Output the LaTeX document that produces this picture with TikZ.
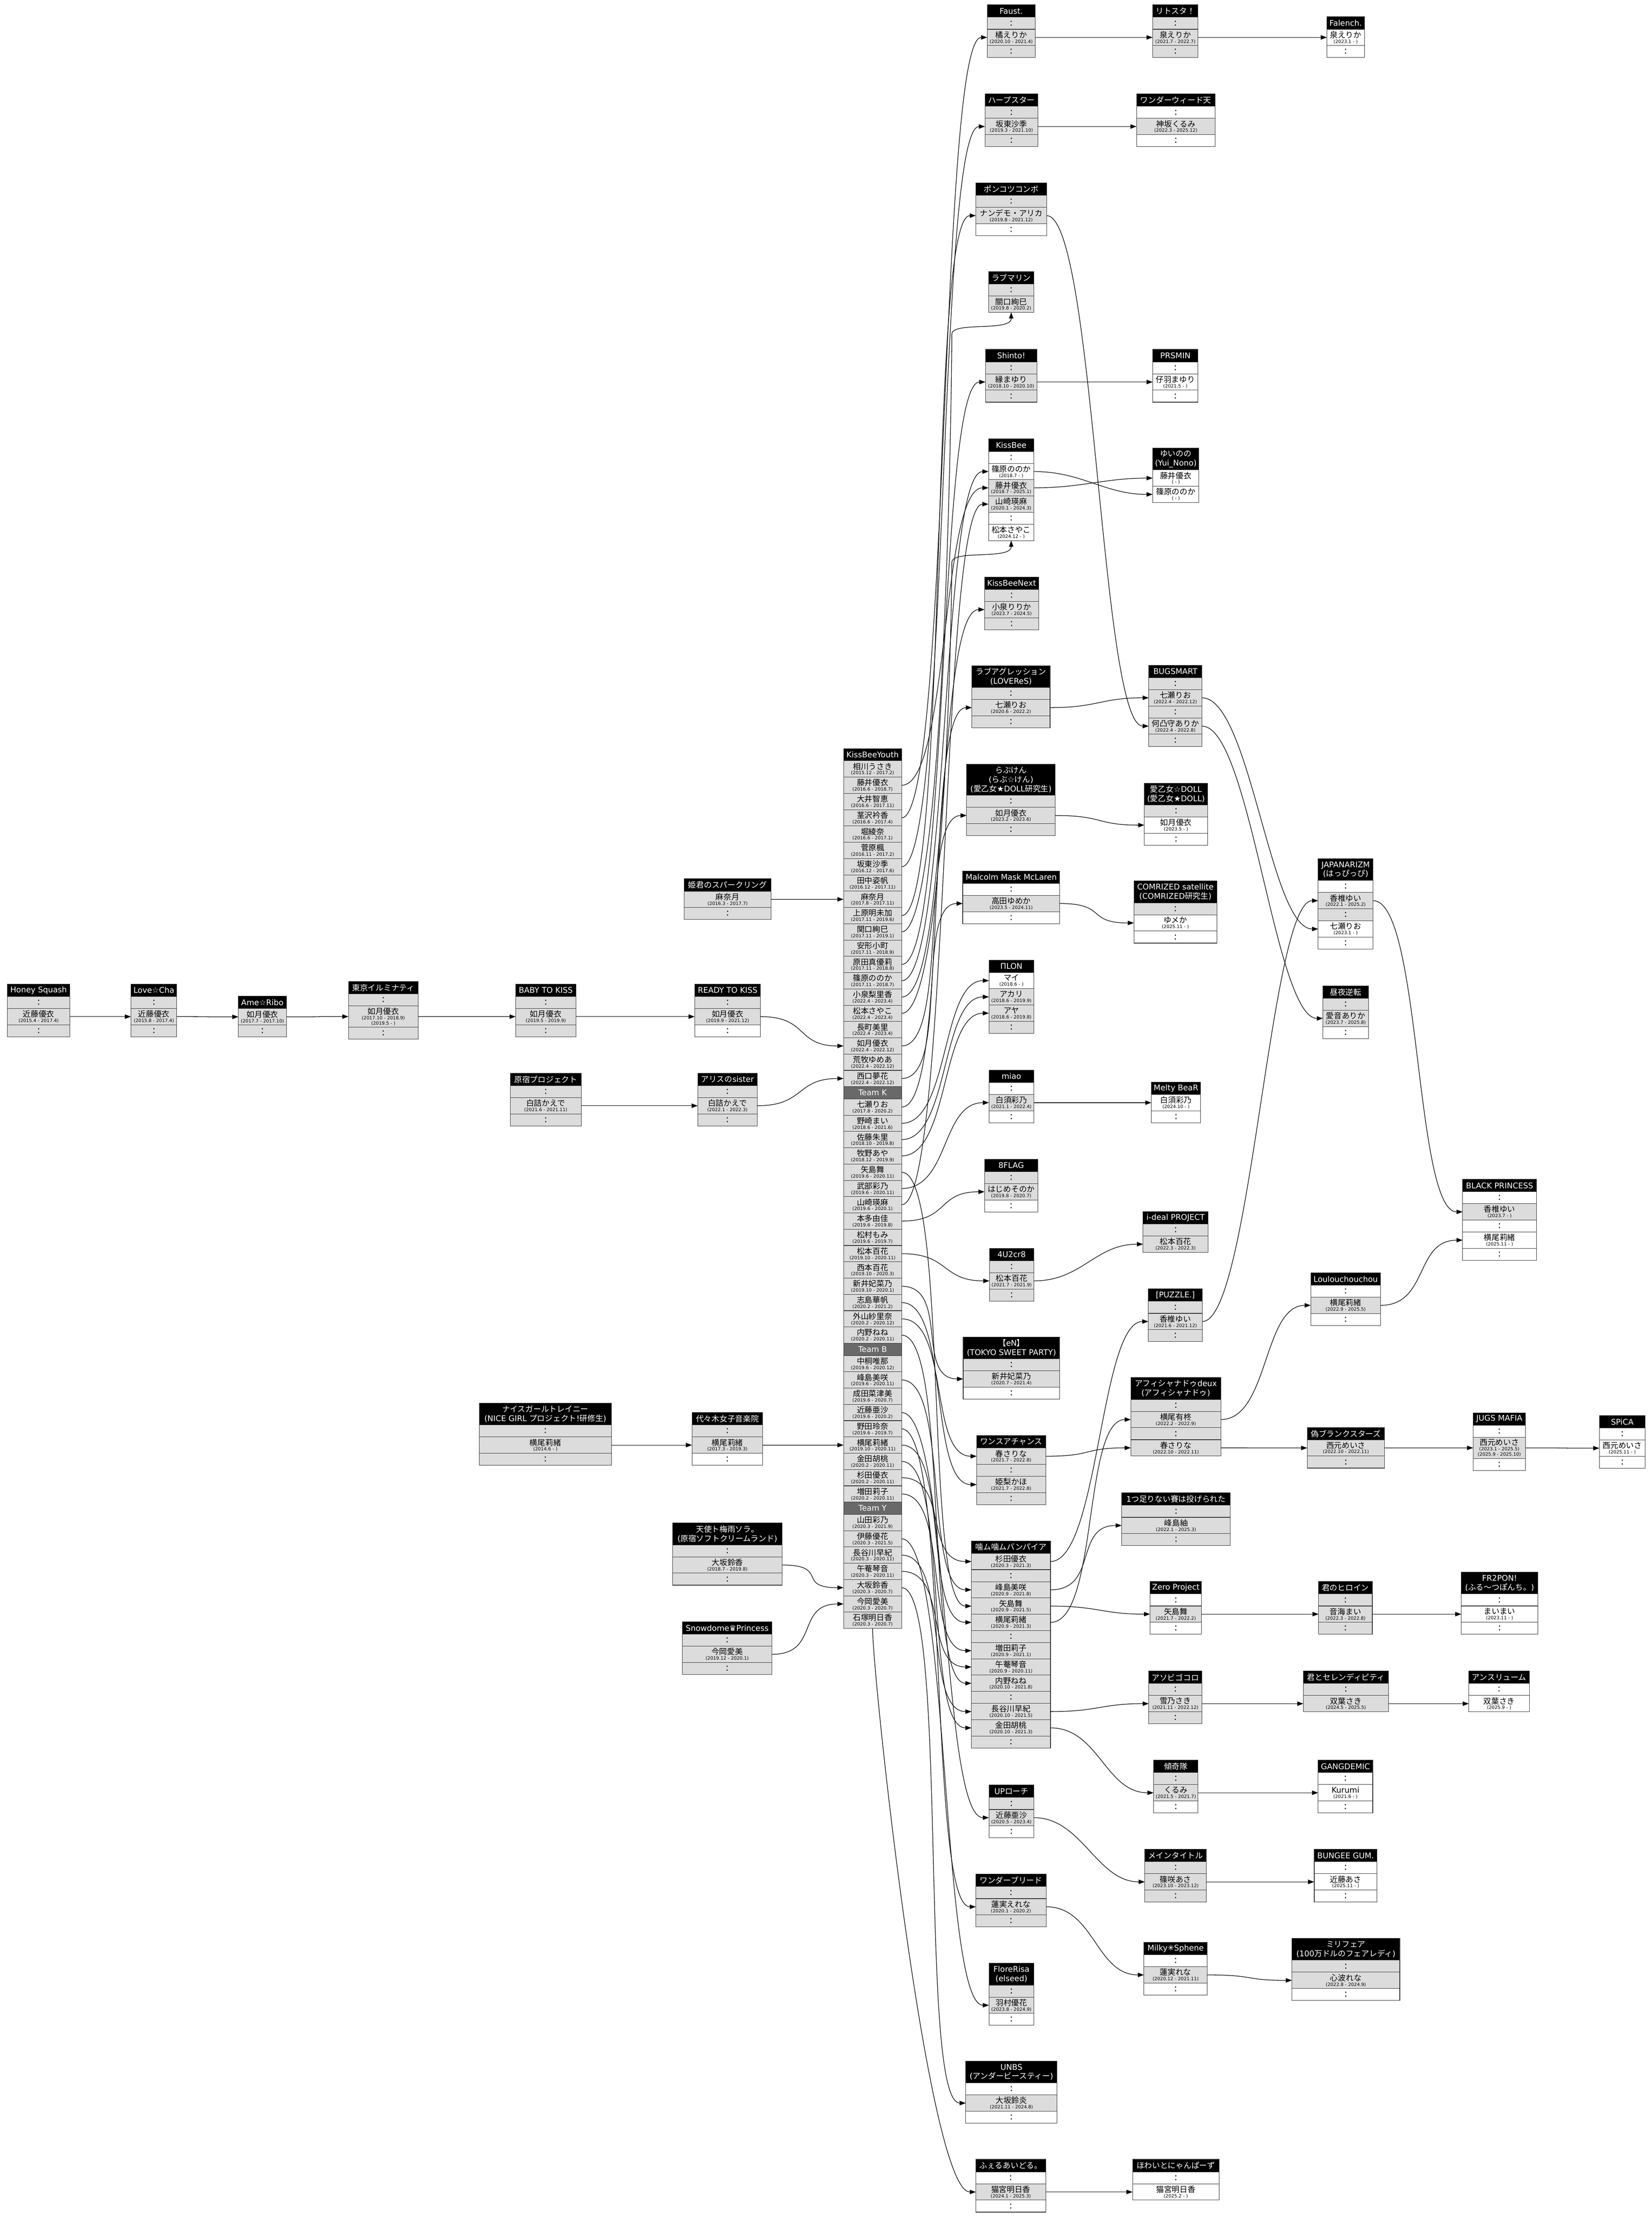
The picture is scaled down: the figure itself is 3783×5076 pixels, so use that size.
\documentclass[tikz,border=0pt]{standalone}
\usepackage{fontspec}
\setmainfont{DejaVu Sans}
\newfontfamily\jpfont{Noto Sans CJK JP}
\usepackage{xcolor}
\usepackage{tikz}
\usetikzlibrary{positioning, arrows.meta, calc}

\XeTeXinterchartokenstate=1
\newXeTeXintercharclass\jpclass
\newcount\jpcode
\jpcode="3000
\loop\XeTeXcharclass\jpcode=\jpclass \advance\jpcode by 1 \ifnum\jpcode<"A000 \repeat
\jpcode="FF00
\loop\XeTeXcharclass\jpcode=\jpclass \advance\jpcode by 1 \ifnum\jpcode<"FFF0 \repeat
\XeTeXinterchartoks 0 \jpclass={\jpfont}
\XeTeXinterchartoks 4095 \jpclass={\jpfont}
\XeTeXinterchartoks \jpclass 0={\rmfamily}

\definecolor{rowgray}{HTML}{DCDCDC}
\definecolor{teamgray}{HTML}{696969}
\definecolor{rulegray}{HTML}{333333}

\newcommand\hdfnt{\fontsize{18}{21}\selectfont}
\newcommand\nmfnt{\fontsize{18}{12}\selectfont}
\newcommand\dotfnt{\fontsize{22}{22}\selectfont}
\newcommand\when[1]{{\fontsize{10.5}{11}\selectfont(#1)}}

\tikzset{
  box/.style={draw=rulegray, line width=1.1pt, outer sep=0pt, inner sep=0pt, align=center},
  hd/.style={box, fill=black, text=white, minimum height=28.5pt, font=\hdfnt},
  hdd/.style={hd, minimum height=50pt},
  hddd/.style={hd, minimum height=71pt},
  team/.style={box, fill=teamgray, text=white, minimum height=28pt, font=\hdfnt},
  gm/.style={box, fill=rowgray, minimum height=37.3pt, font=\nmfnt},
  wm/.style={gm, fill=white},
  gmm/.style={gm, minimum height=49pt},
  gd/.style={box, fill=rowgray, minimum height=27.5pt, font=\dotfnt},
  wd/.style={gd, fill=white},
  link/.style={line width=1.3pt, -{Triangle[length=14pt,width=10pt]},
    to path={.. controls +(110pt,0pt) and +(-110pt,0pt) .. (\tikztotarget)}},
  uplink/.style={link, to path={.. controls +(100pt,0pt) and +(0pt,-100pt) .. ($(\tikztotarget)+(-136pt,-50pt)$)
    .. controls +(0pt,30pt) and +(0pt,-45pt) .. (\tikztotarget)}},
  downlink/.style={link, to path={.. controls +(0pt,-110pt) and +(-110pt,0pt) .. (\tikztotarget)}},
}

\begin{document}
\begin{tikzpicture}[x=1pt, y=1pt]
\useasboundingbox[fill=white] (0,0) rectangle (3783,-5076);

\begin{scope}[nodes={minimum width=143pt}]
\node[hd, anchor=north] (honey) at (88.5,-2253) {Honey Squash};
\node[gd, below=0pt of honey] (honey-d1) {:};
\node[gm, below=0pt of honey-d1] (honey-kondo) {近藤優衣\\\when{2015.4 - 2017.4}};
\node[gd, below=0pt of honey-kondo] (honey-d2) {:};
\end{scope}

\begin{scope}[nodes={minimum width=105pt}]
\node[hd, anchor=north] (lovecha) at (352.5,-2253) {Love☆Cha};
\node[gd, below=0pt of lovecha] (lovecha-d1) {:};
\node[gm, below=0pt of lovecha-d1] (lovecha-kondo) {近藤優衣\\\when{2015.8 - 2017.4}};
\node[gd, below=0pt of lovecha-kondo] (lovecha-d2) {:};
\end{scope}

\begin{scope}[nodes={minimum width=110pt}]
\node[hd, anchor=north] (ameribo) at (601,-2281) {Ame☆Ribo};
\node[gm, below=0pt of ameribo] (ameribo-kisa) {如月優衣\\\when{2017.7 - 2017.10}};
\node[gd, below=0pt of ameribo-kisa] (ameribo-d1) {:};
\end{scope}

\begin{scope}[nodes={minimum width=160pt}]
\node[hd, anchor=north] (illumi) at (878,-2247) {東京イルミナティ};
\node[gd, below=0pt of illumi] (illumi-d1) {:};
\node[gmm, below=0pt of illumi-d1] (illumi-kisa) {如月優衣\\\when{2017.10 - 2018.9}\\\when{2019.5 - }};
\node[gd, below=0pt of illumi-kisa] (illumi-d2) {:};
\end{scope}

\begin{scope}[nodes={minimum width=138pt}]
\node[hd, anchor=north] (babykiss) at (1250,-2253) {BABY TO KISS};
\node[gd, below=0pt of babykiss] (babykiss-d1) {:};
\node[gm, below=0pt of babykiss-d1] (babykiss-kisa) {如月優衣\\\when{2019.5 - 2019.9}};
\node[gd, below=0pt of babykiss-kisa] (babykiss-d2) {:};
\end{scope}

\begin{scope}[nodes={minimum width=151pt}]
\node[hd, anchor=north] (readykiss) at (1666.5,-2253) {READY TO KISS};
\node[gd, below=0pt of readykiss] (readykiss-d1) {:};
\node[gm, below=0pt of readykiss-d1] (readykiss-kisa) {如月優衣\\\when{2019.9 - 2021.12}};
\node[wd, below=0pt of readykiss-kisa] (readykiss-d2) {:};
\end{scope}

\begin{scope}[nodes={minimum width=199pt}]
\node[hd, anchor=north] (hime) at (1666.5,-2012) {姫君のスパークリング};
\node[gm, below=0pt of hime] (hime-mana) {麻奈月\\\when{2016.3 - 2017.7}};
\node[gd, below=0pt of hime-mana] (hime-d1) {:};
\end{scope}

\begin{scope}[nodes={minimum width=162pt}]
\node[hd, anchor=north] (harajuku) at (1250,-2457) {原宿プロジェクト};
\node[gd, below=0pt of harajuku] (harajuku-d1) {:};
\node[gm, below=0pt of harajuku-d1] (harajuku-shiro) {白詰かえで\\\when{2021.6 - 2021.11}};
\node[gd, below=0pt of harajuku-shiro] (harajuku-d2) {:};
\end{scope}

\begin{scope}[nodes={minimum width=136pt}]
\node[hd, anchor=north] (alice) at (1666,-2457) {アリスのsister};
\node[gd, below=0pt of alice] (alice-d1) {:};
\node[gm, below=0pt of alice-d1] (alice-shiro) {白詰かえで\\\when{2022.1 - 2022.3}};
\node[gd, below=0pt of alice-shiro] (alice-d2) {:};
\end{scope}

\begin{scope}[nodes={minimum width=302pt}]
\node[hdd, anchor=north] (nice) at (1249,-3212.5) {ナイスガールトレイニー\\(NICE GIRL プロジェクト!研修生)};
\node[gd, below=0pt of nice] (nice-d1) {:};
\node[gm, below=0pt of nice-d1] (nice-yokoo) {横尾莉緒\\\when{2014.6 - }};
\node[gd, below=0pt of nice-yokoo] (nice-d2) {:};
\end{scope}

\begin{scope}[nodes={minimum width=162pt}]
\node[hd, anchor=north] (yoyogi) at (1666,-3234) {代々木女子音楽院};
\node[gd, below=0pt of yoyogi] (yoyogi-d1) {:};
\node[gm, below=0pt of yoyogi-d1] (yoyogi-yokoo) {横尾莉緒\\\when{2017.3 - 2019.3}};
\node[wd, below=0pt of yoyogi-yokoo] (yoyogi-d2) {:};
\end{scope}

\begin{scope}[nodes={minimum width=250pt}]
\node[hdd, anchor=north] (tenshi) at (1666,-3487) {天使ト梅雨ソラ。\\(原宿ソフトクリームランド)};
\node[gd, below=0pt of tenshi] (tenshi-d1) {:};
\node[gm, below=0pt of tenshi-d1] (tenshi-osaka) {大坂鈴香\\\when{2018.7 - 2019.8}};
\node[gd, below=0pt of tenshi-osaka] (tenshi-d2) {:};
\end{scope}

\begin{scope}[nodes={minimum width=205pt}]
\node[hd, anchor=north] (snow) at (1665.5,-3713) {Snowdome♛Princess};
\node[gd, below=0pt of snow] (snow-d1) {:};
\node[gm, below=0pt of snow-d1] (snow-imaoka) {今岡愛美\\\when{2019.12 - 2020.1}};
\node[gd, below=0pt of snow-imaoka] (snow-d2) {:};
\end{scope}

\begin{scope}[nodes={minimum width=133pt}]
\node[hd, minimum height=28pt, anchor=north] (kby) at (1998.5,-1714) {KissBeeYouth};
\node[gm, below=0pt of kby] (kby-aikawa) {相川うさき\\\when{2015.12 - 2017.2}};
\node[gm, below=0pt of kby-aikawa] (kby-fujii) {藤井優衣\\\when{2016.6 - 2018.7}};
\node[gm, below=0pt of kby-fujii] (kby-oi) {大井智恵\\\when{2016.6 - 2017.11}};
\node[gm, below=0pt of kby-oi] (kby-kukisawa) {茎沢衿香\\\when{2016.6 - 2017.4}};
\node[gm, below=0pt of kby-kukisawa] (kby-hori) {堀綾奈\\\when{2016.6 - 2017.1}};
\node[gm, below=0pt of kby-hori] (kby-sugawara) {菅原楓\\\when{2016.11 - 2017.2}};
\node[gm, below=0pt of kby-sugawara] (kby-bando) {坂東沙季\\\when{2016.12 - 2017.6}};
\node[gm, below=0pt of kby-bando] (kby-tanaka) {田中姿帆\\\when{2016.12 - 2017.11}};
\node[gm, below=0pt of kby-tanaka] (kby-mana) {麻奈月\\\when{2017.8 - 2017.11}};
\node[gm, below=0pt of kby-mana] (kby-uehara) {上原明未加\\\when{2017.11 - 2019.6}};
\node[gm, below=0pt of kby-uehara] (kby-sekiguchi) {関口絢巳\\\when{2017.11 - 2019.1}};
\node[gm, below=0pt of kby-sekiguchi] (kby-agata) {安形小町\\\when{2017.11 - 2018.9}};
\node[gm, below=0pt of kby-agata] (kby-harada) {原田真優莉\\\when{2017.11 - 2018.8}};
\node[gm, below=0pt of kby-harada] (kby-shinohara) {篠原ののか\\\when{2017.11 - 2018.7}};
\node[gm, below=0pt of kby-shinohara] (kby-koizumi) {小泉梨里香\\\when{2022.4 - 2023.4}};
\node[gm, below=0pt of kby-koizumi] (kby-matsumotos) {松本さやこ\\\when{2022.4 - 2023.4}};
\node[gm, below=0pt of kby-matsumotos] (kby-nagamachi) {長町美里\\\when{2022.4 - 2023.4}};
\node[gm, below=0pt of kby-nagamachi] (kby-kisaragi) {如月優衣\\\when{2022.4 - 2022.12}};
\node[gm, below=0pt of kby-kisaragi] (kby-aramaki) {荒牧ゆめあ\\\when{2022.4 - 2022.12}};
\node[gm, below=0pt of kby-aramaki] (kby-nishiguchi) {西口夢花\\\when{2022.4 - 2022.12}};
\node[team, below=0pt of kby-nishiguchi] (kby-k) {Team K};
\node[gm, below=0pt of kby-k] (kby-nanase) {七瀬りお\\\when{2017.8 - 2020.2}};
\node[gm, below=0pt of kby-nanase] (kby-nozaki) {野崎まい\\\when{2018.6 - 2021.6}};
\node[gm, below=0pt of kby-nozaki] (kby-sato) {佐藤朱里\\\when{2018.10 - 2019.8}};
\node[gm, below=0pt of kby-sato] (kby-makino) {牧野あや\\\when{2018.12 - 2019.9}};
\node[gm, below=0pt of kby-makino] (kby-yajima) {矢島舞\\\when{2019.6 - 2020.11}};
\node[gm, below=0pt of kby-yajima] (kby-takebe) {武部彩乃\\\when{2019.6 - 2020.11}};
\node[gm, below=0pt of kby-takebe] (kby-yamazaki) {山崎瑛麻\\\when{2019.6 - 2020.1}};
\node[gm, below=0pt of kby-yamazaki] (kby-honda) {本多由佳\\\when{2019.6 - 2019.8}};
\node[gm, below=0pt of kby-honda] (kby-matsumura) {松村もみ\\\when{2019.6 - 2019.7}};
\node[gm, below=0pt of kby-matsumura] (kby-matsumotom) {松本百花\\\when{2019.10 - 2020.11}};
\node[gm, below=0pt of kby-matsumotom] (kby-nishimoto) {西本百花\\\when{2019.10 - 2020.3}};
\node[gm, below=0pt of kby-nishimoto] (kby-arai) {新井妃菜乃\\\when{2019.10 - 2020.1}};
\node[gm, below=0pt of kby-arai] (kby-shijima) {志島華帆\\\when{2020.2 - 2021.2}};
\node[gm, below=0pt of kby-shijima] (kby-toyama) {外山紗里奈\\\when{2020.2 - 2020.12}};
\node[gm, below=0pt of kby-toyama] (kby-uchino) {内野ねね\\\when{2020.2 - 2020.11}};
\node[team, below=0pt of kby-uchino] (kby-b) {Team B};
\node[gm, below=0pt of kby-b] (kby-nakagiri) {中桐唯那\\\when{2019.6 - 2020.12}};
\node[gm, below=0pt of kby-nakagiri] (kby-mineshima) {峰島美咲\\\when{2019.6 - 2020.11}};
\node[gm, below=0pt of kby-mineshima] (kby-narita) {成田菜津美\\\when{2019.6 - 2020.7}};
\node[gm, below=0pt of kby-narita] (kby-kondo) {近藤亜沙\\\when{2019.6 - 2020.2}};
\node[gm, below=0pt of kby-kondo] (kby-noda) {野田玲奈\\\when{2019.6 - 2019.7}};
\node[gm, below=0pt of kby-noda] (kby-yokoo) {横尾莉緒\\\when{2019.10 - 2020.11}};
\node[gm, below=0pt of kby-yokoo] (kby-kaneda) {金田胡桃\\\when{2020.2 - 2020.11}};
\node[gm, below=0pt of kby-kaneda] (kby-sugita) {杉田優衣\\\when{2020.2 - 2020.11}};
\node[gm, below=0pt of kby-sugita] (kby-masuda) {増田莉子\\\when{2020.2 - 2020.11}};
\node[team, below=0pt of kby-masuda] (kby-y) {Team Y};
\node[gm, below=0pt of kby-y] (kby-yamada) {山田彩乃\\\when{2020.3 - 2021.9}};
\node[gm, below=0pt of kby-yamada] (kby-ito) {伊藤優花\\\when{2020.3 - 2021.5}};
\node[gm, below=0pt of kby-ito] (kby-hasegawa) {長谷川早紀\\\when{2020.3 - 2020.11}};
\node[gm, below=0pt of kby-hasegawa] (kby-gogan) {午菴琴音\\\when{2020.3 - 2020.11}};
\node[gm, below=0pt of kby-gogan] (kby-osaka) {大坂鈴香\\\when{2020.3 - 2020.7}};
\node[gm, below=0pt of kby-osaka] (kby-imaoka) {今岡愛美\\\when{2020.3 - 2020.7}};
\node[gm, below=0pt of kby-imaoka] (kby-ishizuka) {石塚明日香\\\when{2020.3 - 2020.7}};
\end{scope}

\begin{scope}[nodes={minimum width=110pt}]
\node[hd, anchor=north] (faust) at (2316,-11) {Faust.};
\node[gd, below=0pt of faust] (faust-d1) {:};
\node[gm, below=0pt of faust-d1] (faust-tachibana) {橘えりか\\\when{2020.10 - 2021.4}};
\node[gd, below=0pt of faust-tachibana] (faust-d2) {:};
\end{scope}

\begin{scope}[nodes={minimum width=104pt}]
\node[hd, anchor=north] (ritosuta) at (2692,-11) {リトスタ！};
\node[gd, below=0pt of ritosuta] (ritosuta-d1) {:};
\node[gm, below=0pt of ritosuta-d1] (ritosuta-izumi) {泉えりか\\\when{2021.7 - 2022.7}};
\node[gd, below=0pt of ritosuta-izumi] (ritosuta-d2) {:};
\end{scope}

\begin{scope}[nodes={minimum width=86pt}]
\node[hd, anchor=north] (falench) at (3082,-38.5) {Falench.};
\node[wm, below=0pt of falench] (falench-izumi) {泉えりか\\\when{2023.1 - }};
\node[wd, below=0pt of falench-izumi] (falench-d1) {:};
\end{scope}

\begin{scope}[nodes={minimum width=121pt}]
\node[hd, anchor=north] (harp) at (2316.5,-215) {ハープスター};
\node[gd, below=0pt of harp] (harp-d1) {:};
\node[gm, below=0pt of harp-d1] (harp-bando) {坂東沙季\\\when{2019.3 - 2021.10}};
\node[gd, below=0pt of harp-bando] (harp-d2) {:};
\end{scope}

\begin{scope}[nodes={minimum width=180pt}]
\node[hd, anchor=north] (wonderweed) at (2693,-215) {ワンダーウィード天};
\node[wd, below=0pt of wonderweed] (wonderweed-d1) {:};
\node[gm, below=0pt of wonderweed-d1] (wonderweed-kamisaka) {神坂くるみ\\\when{2022.3 - 2025.12}};
\node[wd, below=0pt of wonderweed-kamisaka] (wonderweed-d2) {:};
\end{scope}

\begin{scope}[nodes={minimum width=162pt}]
\node[hd, anchor=north] (ponkotsu) at (2316,-419) {ポンコツコンボ};
\node[gd, below=0pt of ponkotsu] (ponkotsu-d1) {:};
\node[gm, below=0pt of ponkotsu-d1] (ponkotsu-arika) {ナンデモ・アリカ\\\when{2019.8 - 2021.12}};
\node[wd, below=0pt of ponkotsu-arika] (ponkotsu-d2) {:};
\end{scope}

\begin{scope}[nodes={minimum width=104pt}]
\node[hd, anchor=north] (lovemarine) at (2316,-622) {ラブマリン};
\node[gd, below=0pt of lovemarine] (lovemarine-d1) {:};
\node[gm, below=0pt of lovemarine-d1] (lovemarine-sekiguchi) {關口絢巳\\\when{2019.8 - 2020.2}};
\end{scope}

\begin{scope}[nodes={minimum width=118pt}]
\node[hd, anchor=north] (shinto) at (2316,-800) {Shinto!};
\node[gd, below=0pt of shinto] (shinto-d1) {:};
\node[gm, below=0pt of shinto-d1] (shinto-mayuri) {縁まゆり\\\when{2018.10 - 2020.10}};
\node[gd, below=0pt of shinto-mayuri] (shinto-d2) {:};
\end{scope}

\begin{scope}[nodes={minimum width=104pt}]
\node[hd, anchor=north] (prsmin) at (2692,-800) {PRSMIN};
\node[wd, below=0pt of prsmin] (prsmin-d1) {:};
\node[wm, below=0pt of prsmin-d1] (prsmin-mayuri) {仔羽まゆり\\\when{2021.5 - }};
\node[wd, below=0pt of prsmin-mayuri] (prsmin-d2) {:};
\end{scope}

\begin{scope}[nodes={minimum width=104pt}]
\node[hd, anchor=north] (kissbee) at (2316,-1005) {KissBee};
\node[wd, below=0pt of kissbee] (kissbee-d1) {:};
\node[wm, below=0pt of kissbee-d1] (kissbee-shinohara) {篠原ののか\\\when{2018.7 - }};
\node[gm, below=0pt of kissbee-shinohara] (kissbee-fujii) {藤井優衣\\\when{2018.7 - 2025.1}};
\node[gm, below=0pt of kissbee-fujii] (kissbee-yamazaki) {山崎瑛麻\\\when{2020.1 - 2024.3}};
\node[wd, below=0pt of kissbee-yamazaki] (kissbee-d2) {:};
\node[wm, below=0pt of kissbee-d2] (kissbee-matsumoto) {松本さやこ\\\when{2024.12 - }};
\end{scope}

\begin{scope}[nodes={minimum width=106pt}]
\node[hdd, anchor=north] (yuinono) at (2693,-1026) {ゆいのの\\(Yui\_Nono)};
\node[wm, below=0pt of yuinono] (yuinono-fujii) {藤井優衣\\\when{ - }};
\node[wm, below=0pt of yuinono-fujii] (yuinono-shinohara) {篠原ののか\\\when{ - }};
\end{scope}

\begin{scope}[nodes={minimum width=124pt}]
\node[hd, anchor=north] (kbnext) at (2317,-1321) {KissBeeNext};
\node[gd, below=0pt of kbnext] (kbnext-d1) {:};
\node[gm, below=0pt of kbnext-d1] (kbnext-koizumi) {小泉りりか\\\when{2023.7 - 2024.5}};
\node[gd, below=0pt of kbnext-koizumi] (kbnext-d2) {:};
\end{scope}

\begin{scope}[nodes={minimum width=179pt}]
\node[hdd, anchor=north] (loveres) at (2315.5,-1524) {ラブアグレッション\\(LOVEReS)};
\node[gd, below=0pt of loveres] (loveres-d1) {:};
\node[gm, below=0pt of loveres-d1] (loveres-nanase) {七瀬りお\\\when{2020.6 - 2022.2}};
\node[gd, below=0pt of loveres-nanase] (loveres-d2) {:};
\end{scope}

\begin{scope}[nodes={minimum width=122pt}]
\node[hd, anchor=north] (bugsmart) at (2692,-1523) {BUGSMART};
\node[gd, below=0pt of bugsmart] (bugsmart-d1) {:};
\node[gm, below=0pt of bugsmart-d1] (bugsmart-nanase) {七瀬りお\\\when{2022.4 - 2022.12}};
\node[gd, below=0pt of bugsmart-nanase] (bugsmart-d2) {:};
\node[gm, below=0pt of bugsmart-d2] (bugsmart-arika) {何凸守ありか\\\when{2022.4 - 2022.8}};
\node[gd, below=0pt of bugsmart-arika] (bugsmart-d3) {:};
\end{scope}

\begin{scope}[nodes={minimum width=203pt}]
\node[hddd, anchor=north] (loveken) at (2315.5,-1750) {らぶけん\\(らぶ☆けん)\\(愛乙女★DOLL研究生)};
\node[gd, below=0pt of loveken] (loveken-d1) {:};
\node[gm, below=0pt of loveken-d1] (loveken-kisa) {如月優衣\\\when{2023.2 - 2023.6}};
\node[gd, below=0pt of loveken-kisa] (loveken-d2) {:};
\end{scope}

\begin{scope}[nodes={minimum width=145pt}]
\node[hdd, anchor=north] (aiotome) at (2693.5,-1793) {愛乙女☆DOLL\\(愛乙女★DOLL)};
\node[gd, below=0pt of aiotome] (aiotome-d1) {:};
\node[wm, below=0pt of aiotome-d1] (aiotome-kisa) {如月優衣\\\when{2023.5 - }};
\node[wd, below=0pt of aiotome-kisa] (aiotome-d2) {:};
\end{scope}

\begin{scope}[nodes={minimum width=222pt}]
\node[hd, anchor=north] (malcolm) at (2316,-1994) {Malcolm Mask McLaren};
\node[wd, below=0pt of malcolm] (malcolm-d1) {:};
\node[gm, below=0pt of malcolm-d1] (malcolm-takada) {高田ゆめか\\\when{2023.5 - 2024.11}};
\node[wd, below=0pt of malcolm-takada] (malcolm-d2) {:};
\end{scope}

\begin{scope}[nodes={minimum width=190pt}]
\node[hdd, anchor=north] (comrized) at (2692,-2017) {COMRIZED satellite\\(COMRIZED研究生)};
\node[gd, below=0pt of comrized] (comrized-d1) {:};
\node[wm, below=0pt of comrized-d1] (comrized-yumeka) {ゆメか\\\when{2025.11 - }};
\node[wd, below=0pt of comrized-yumeka] (comrized-d2) {:};
\end{scope}

\begin{scope}[nodes={minimum width=126pt}]
\node[hdd, anchor=north] (japanarizm) at (3082,-1966) {JAPANARIZM\\(はっぴっぴ)};
\node[wd, below=0pt of japanarizm] (japanarizm-d1) {:};
\node[gm, below=0pt of japanarizm-d1] (japanarizm-kashii) {香椎ゆい\\\when{2022.1 - 2025.2}};
\node[gd, below=0pt of japanarizm-kashii] (japanarizm-d2) {:};
\node[wm, below=0pt of japanarizm-d2] (japanarizm-nanase) {七瀬りお\\\when{2023.1 - }};
\node[wd, below=0pt of japanarizm-nanase] (japanarizm-d3) {:};
\end{scope}

\begin{scope}[nodes={minimum width=103pt}]
\node[hd, anchor=north] (pilon) at (2316.5,-2198) {ΠLON};
\node[wm, below=0pt of pilon] (pilon-mai) {マイ\\\when{2018.6 - }};
\node[gm, below=0pt of pilon-mai] (pilon-akari) {アカリ\\\when{2018.6 - 2019.9}};
\node[gm, below=0pt of pilon-akari] (pilon-aya) {アヤ\\\when{2018.6 - 2019.8}};
\node[gd, below=0pt of pilon-aya] (pilon-d1) {:};
\end{scope}

\begin{scope}[nodes={minimum width=104pt}]
\node[hd, anchor=north] (chuya) at (3082,-2257) {昼夜逆転};
\node[gd, below=0pt of chuya] (chuya-d1) {:};
\node[gm, below=0pt of chuya-d1] (chuya-arika) {愛音ありか\\\when{2023.7 - 2025.8}};
\node[wd, below=0pt of chuya-arika] (chuya-d2) {:};
\end{scope}

\begin{scope}[nodes={minimum width=103pt}]
\node[hd, anchor=north] (miao) at (2316.5,-2450) {miao};
\node[wd, below=0pt of miao] (miao-d1) {:};
\node[gm, below=0pt of miao-d1] (miao-shirasu) {白須彩乃\\\when{2021.1 - 2022.4}};
\node[wd, below=0pt of miao-shirasu] (miao-d2) {:};
\end{scope}

\begin{scope}[nodes={minimum width=113pt}]
\node[hd, anchor=north] (melty) at (2693.5,-2477.5) {Melty BeaR};
\node[wm, below=0pt of melty] (melty-shirasu) {白須彩乃\\\when{2024.10 - }};
\node[wd, below=0pt of melty-shirasu] (melty-d1) {:};
\end{scope}

\begin{scope}[nodes={minimum width=122pt}]
\node[hd, anchor=north] (eightflag) at (2316,-2654) {8FLAG};
\node[gd, below=0pt of eightflag] (eightflag-d1) {:};
\node[gm, below=0pt of eightflag-d1] (eightflag-sonoka) {はじめそのか\\\when{2019.8 - 2020.7}};
\node[wd, below=0pt of eightflag-sonoka] (eightflag-d2) {:};
\end{scope}

\begin{scope}[nodes={minimum width=149pt}]
\node[hd, anchor=north] (ideal) at (2692.5,-2774) {i-deal PROJECT};
\node[gd, below=0pt of ideal] (ideal-d1) {:};
\node[gm, below=0pt of ideal-d1] (ideal-matsumoto) {松本百花\\\when{2022.3 - 2022.3}};
\end{scope}

\begin{scope}[nodes={minimum width=102pt}]
\node[hd, anchor=north] (fouru) at (2317,-2858) {4U2cr8};
\node[gd, below=0pt of fouru] (fouru-d1) {:};
\node[gm, below=0pt of fouru-d1] (fouru-matsumoto) {松本百花\\\when{2021.7 - 2021.9}};
\node[gd, below=0pt of fouru-matsumoto] (fouru-d2) {:};
\end{scope}

\begin{scope}[nodes={minimum width=124pt}]
\node[hd, anchor=north] (puzzle) at (2692,-2951) {[PUZZLE.]};
\node[gd, below=0pt of puzzle] (puzzle-d1) {:};
\node[gm, below=0pt of puzzle-d1] (puzzle-kashii) {香椎ゆい\\\when{2021.6 - 2021.12}};
\node[gd, below=0pt of puzzle-kashii] (puzzle-d2) {:};
\end{scope}

\begin{scope}[nodes={minimum width=160pt}]
\node[hd, anchor=north] (loulou) at (3082,-2914) {Loulouchouchou};
\node[wd, below=0pt of loulou] (loulou-d1) {:};
\node[gm, below=0pt of loulou-d1] (loulou-yokoo) {横尾莉緒\\\when{2022.9 - 2025.5}};
\node[wd, below=0pt of loulou-yokoo] (loulou-d2) {:};
\end{scope}

\begin{scope}[nodes={minimum width=169pt}]
\node[hd, anchor=north] (blackp) at (3434.5,-2700) {BLACK PRINCESS};
\node[wd, below=0pt of blackp] (blackp-d1) {:};
\node[gm, below=0pt of blackp-d1] (blackp-kashii) {香椎ゆい\\\when{2023.7 - }};
\node[wd, below=0pt of blackp-kashii] (blackp-d2) {:};
\node[wm, below=0pt of blackp-d2] (blackp-yokoo) {横尾莉緒\\\when{2025.11 - }};
\node[wd, below=0pt of blackp-yokoo] (blackp-d3) {:};
\end{scope}

\begin{scope}[nodes={minimum width=221pt}]
\node[hdd, anchor=north] (en) at (2316.5,-3061) {【eN】\\(TOKYO SWEET PARTY)};
\node[gd, below=0pt of en] (en-d1) {:};
\node[gm, below=0pt of en-d1] (en-arai) {新井妃菜乃\\\when{2020.7 - 2021.4}};
\node[wd, below=0pt of en-arai] (en-d2) {:};
\end{scope}

\begin{scope}[nodes={minimum width=206pt}]
\node[hdd, anchor=north] (affi) at (2693,-3154) {アフィシャナドゥdeux\\(アフィシャナドゥ)};
\node[gd, below=0pt of affi] (affi-d1) {:};
\node[gm, below=0pt of affi-d1] (affi-yokoo) {横尾有柊\\\when{2022.2 - 2022.9}};
\node[gd, below=0pt of affi-yokoo] (affi-d2) {:};
\node[gm, below=0pt of affi-d2] (affi-sarina) {春さりな\\\when{2022.10 - 2022.11}};
\end{scope}

\begin{scope}[nodes={minimum width=158pt}]
\node[hd, anchor=north] (once) at (2316,-3287) {ワンスアチャンス};
\node[gm, below=0pt of once] (once-sarina) {春さりな\\\when{2021.7 - 2022.8}};
\node[gd, below=0pt of once-sarina] (once-d1) {:};
\node[gm, below=0pt of once-d1] (once-kaho) {姫梨かほ\\\when{2021.7 - 2022.8}};
\node[gd, below=0pt of once-kaho] (once-d2) {:};
\end{scope}

\begin{scope}[nodes={minimum width=177pt}]
\node[hd, anchor=north] (nise) at (3082.5,-3268) {偽ブランクスターズ};
\node[gm, below=0pt of nise] (nise-meisa) {西元めいさ\\\when{2022.10 - 2022.11}};
\node[gd, below=0pt of nise-meisa] (nise-d1) {:};
\end{scope}

\begin{scope}[nodes={minimum width=120pt}]
\node[hd, anchor=north] (jugs) at (3434,-3234.5) {JUGS MAFIA};
\node[wd, below=0pt of jugs] (jugs-d1) {:};
\node[gmm, below=0pt of jugs-d1] (jugs-meisa) {西元めいさ\\\when{2023.1 - 2025.5}\\\when{2025.9 - 2025.10}};
\node[wd, below=0pt of jugs-meisa] (jugs-d2) {:};
\end{scope}

\begin{scope}[nodes={minimum width=105pt}]
\node[hd, anchor=north] (spica) at (3715.5,-3241) {SPiCA};
\node[wd, below=0pt of spica] (spica-d1) {:};
\node[wm, below=0pt of spica-d1] (spica-meisa) {西元めいさ\\\when{2025.11 - }};
\node[wd, below=0pt of spica-meisa] (spica-d2) {:};
\end{scope}

\begin{scope}[nodes={minimum width=249pt}]
\node[hd, anchor=north] (hitotsu) at (2693.5,-3418) {1つ足りない賽は投げられた};
\node[gd, below=0pt of hitotsu] (hitotsu-d1) {:};
\node[gm, below=0pt of hitotsu-d1] (hitotsu-mineshima) {峰島紬\\\when{2022.1 - 2025.3}};
\node[gd, below=0pt of hitotsu-mineshima] (hitotsu-d2) {:};
\end{scope}

\begin{scope}[nodes={minimum width=181pt}]
\node[hd, anchor=north] (kamu) at (2315.5,-3528) {噛ム噛ムバンパイア};
\node[gm, below=0pt of kamu] (kamu-sugita) {杉田優衣\\\when{2020.3 - 2021.3}};
\node[gd, below=0pt of kamu-sugita] (kamu-d1) {:};
\node[gm, below=0pt of kamu-d1] (kamu-mineshima) {峰島美咲\\\when{2020.9 - 2021.8}};
\node[gm, below=0pt of kamu-mineshima] (kamu-yajima) {矢島舞\\\when{2020.9 - 2021.5}};
\node[gm, below=0pt of kamu-yajima] (kamu-yokoo) {横尾莉緒\\\when{2020.9 - 2021.3}};
\node[gd, below=0pt of kamu-yokoo] (kamu-d2) {:};
\node[gm, below=0pt of kamu-d2] (kamu-masuda) {増田莉子\\\when{2020.9 - 2021.1}};
\node[gm, below=0pt of kamu-masuda] (kamu-gogan) {午菴琴音\\\when{2020.9 - 2020.11}};
\node[gm, below=0pt of kamu-gogan] (kamu-uchino) {内野ねね\\\when{2020.10 - 2021.8}};
\node[gd, below=0pt of kamu-uchino] (kamu-d3) {:};
\node[gm, below=0pt of kamu-d3] (kamu-hasegawa) {長谷川早紀\\\when{2020.10 - 2021.5}};
\node[gm, below=0pt of kamu-hasegawa] (kamu-kaneda) {金田胡桃\\\when{2020.10 - 2021.3}};
\node[gd, below=0pt of kamu-kaneda] (kamu-d4) {:};
\end{scope}

\begin{scope}[nodes={minimum width=118pt}]
\node[hd, anchor=north] (zero) at (2693,-3621) {Zero Project};
\node[wd, below=0pt of zero] (zero-d1) {:};
\node[gm, below=0pt of zero-d1] (zero-yajima) {矢島舞\\\when{2021.7 - 2022.2}};
\node[wd, below=0pt of zero-yajima] (zero-d2) {:};
\end{scope}

\begin{scope}[nodes={minimum width=123pt}]
\node[hd, anchor=north] (heroine) at (3081.5,-3621) {君のヒロイン};
\node[gd, below=0pt of heroine] (heroine-d1) {:};
\node[gm, below=0pt of heroine-d1] (heroine-mai) {音海まい\\\when{2022.3 - 2022.8}};
\node[gd, below=0pt of heroine-mai] (heroine-d2) {:};
\end{scope}

\begin{scope}[nodes={minimum width=175pt}]
\node[hdd, anchor=north] (fr2pon) at (3434.5,-3599.5) {FR2PON!\\(ふる〜つぽんち。)};
\node[wd, below=0pt of fr2pon] (fr2pon-d1) {:};
\node[wm, below=0pt of fr2pon-d1] (fr2pon-maimai) {まいまい\\\when{2023.11 - }};
\node[wd, below=0pt of fr2pon-maimai] (fr2pon-d2) {:};
\end{scope}

\begin{scope}[nodes={minimum width=122pt}]
\node[hd, anchor=north] (asobi) at (2692,-3826) {アソビゴコロ};
\node[gd, below=0pt of asobi] (asobi-d1) {:};
\node[gm, below=0pt of asobi-d1] (asobi-saki) {雪乃さき\\\when{2021.11 - 2022.12}};
\node[gd, below=0pt of asobi-saki] (asobi-d2) {:};
\end{scope}

\begin{scope}[nodes={minimum width=195pt}]
\node[hd, anchor=north] (seren) at (3082.5,-3826) {君とセレンディピティ};
\node[gd, below=0pt of seren] (seren-d1) {:};
\node[gm, below=0pt of seren-d1] (seren-saki) {双葉さき\\\when{2024.5 - 2025.5}};
\end{scope}

\begin{scope}[nodes={minimum width=139pt}]
\node[hd, anchor=north] (anthu) at (3433.5,-3826) {アンスリューム};
\node[wd, below=0pt of anthu] (anthu-d1) {:};
\node[wm, below=0pt of anthu-d1] (anthu-saki) {双葉さき\\\when{2025.9 - }};
\end{scope}

\begin{scope}[nodes={minimum width=102pt}]
\node[hd, anchor=north] (kabuki) at (2693,-4030) {傾奇隊};
\node[gd, below=0pt of kabuki] (kabuki-d1) {:};
\node[gm, below=0pt of kabuki-d1] (kabuki-kurumi) {くるみ\\\when{2021.5 - 2021.7}};
\node[wd, below=0pt of kabuki-kurumi] (kabuki-d2) {:};
\end{scope}

\begin{scope}[nodes={minimum width=125pt}]
\node[hd, anchor=north] (gangdemic) at (3081.5,-4030) {GANGDEMIC};
\node[wd, below=0pt of gangdemic] (gangdemic-d1) {:};
\node[wm, below=0pt of gangdemic-d1] (gangdemic-kurumi) {Kurumi\\\when{2021.6 - }};
\node[wd, below=0pt of gangdemic-kurumi] (gangdemic-d2) {:};
\end{scope}

\begin{scope}[nodes={minimum width=103pt}]
\node[hd, anchor=north] (uproach) at (2316.5,-4087) {UPローチ};
\node[gd, below=0pt of uproach] (uproach-d1) {:};
\node[gm, below=0pt of uproach-d1] (uproach-kondo) {近藤亜沙\\\when{2020.5 - 2023.4}};
\node[wd, below=0pt of uproach-kondo] (uproach-d2) {:};
\end{scope}

\begin{scope}[nodes={minimum width=141pt}]
\node[hd, anchor=north] (maintitle) at (2692.5,-4234) {メインタイトル};
\node[gd, below=0pt of maintitle] (maintitle-d1) {:};
\node[gm, below=0pt of maintitle-d1] (maintitle-asa) {篠咲あさ\\\when{2023.10 - 2023.12}};
\node[gd, below=0pt of maintitle-asa] (maintitle-d2) {:};
\end{scope}

\begin{scope}[nodes={minimum width=144pt}]
\node[hd, anchor=north] (bungee) at (3082,-4234) {BUNGEE GUM.};
\node[wd, below=0pt of bungee] (bungee-d1) {:};
\node[wm, below=0pt of bungee-d1] (bungee-asa) {近藤あさ\\\when{2025.11 - }};
\node[wd, below=0pt of bungee-asa] (bungee-d2) {:};
\end{scope}

\begin{scope}[nodes={minimum width=161pt}]
\node[hd, anchor=north] (wonderbreed) at (2315.5,-4291) {ワンダーブリード};
\node[gd, below=0pt of wonderbreed] (wonderbreed-d1) {:};
\node[gm, below=0pt of wonderbreed-d1] (wonderbreed-erena) {蓮実えれな\\\when{2020.1 - 2020.2}};
\node[gd, below=0pt of wonderbreed-erena] (wonderbreed-d2) {:};
\end{scope}

\begin{scope}[nodes={minimum width=145pt}]
\node[hd, anchor=north] (milky) at (2692.5,-4447) {Milky✳Sphene};
\node[wd, below=0pt of milky] (milky-d1) {:};
\node[gm, below=0pt of milky-d1] (milky-rena) {蓮実れな\\\when{2020.12 - 2021.11}};
\node[wd, below=0pt of milky-rena] (milky-d2) {:};
\end{scope}

\begin{scope}[nodes={minimum width=247pt}]
\node[hdd, anchor=north] (millifair) at (3082.5,-4438) {ミリフェア\\(100万ドルのフェアレディ)};
\node[gd, below=0pt of millifair] (millifair-d1) {:};
\node[gm, below=0pt of millifair-d1] (millifair-rena) {心波れな\\\when{2022.8 - 2024.9}};
\node[wd, below=0pt of millifair-rena] (millifair-d2) {:};
\end{scope}

\begin{scope}[nodes={minimum width=103pt}]
\node[hdd, anchor=north] (flore) at (2316.5,-4495) {FloreRisa\\(elseed)};
\node[gd, below=0pt of flore] (flore-d1) {:};
\node[gm, below=0pt of flore-d1] (flore-hamura) {羽村優花\\\when{2023.8 - 2024.9}};
\node[wd, below=0pt of flore-hamura] (flore-d2) {:};
\end{scope}

\begin{scope}[nodes={minimum width=209pt}]
\node[hdd, anchor=north] (unbs) at (2316.5,-4719) {UNBS\\(アンダービースティー)};
\node[wd, below=0pt of unbs] (unbs-d1) {:};
\node[gm, below=0pt of unbs-d1] (unbs-osaka) {大坂鈴炎\\\when{2021.11 - 2024.8}};
\node[wd, below=0pt of unbs-osaka] (unbs-d2) {:};
\end{scope}

\begin{scope}[nodes={minimum width=160pt}]
\node[hd, anchor=north] (feru) at (2315,-4944) {ふぇるあいどる。};
\node[wd, below=0pt of feru] (feru-d1) {:};
\node[gm, below=0pt of feru-d1] (feru-nekomiya) {猫宮明日香\\\when{2024.1 - 2025.3}};
\node[wd, below=0pt of feru-nekomiya] (feru-d2) {:};
\end{scope}

\begin{scope}[nodes={minimum width=198pt}]
\node[hd, anchor=north] (white) at (2693,-4944) {ほわいとにゃんぱーず};
\node[wd, below=0pt of white] (white-d1) {:};
\node[wm, below=0pt of white-d1] (white-nekomiya) {猫宮明日香\\\when{2025.2 - }};
\end{scope}

\draw[link] (honey-kondo.east) to (lovecha-kondo.west);
\draw[link] (lovecha-kondo.east) to (ameribo-kisa.west);
\draw[link] (ameribo-kisa.east) to (illumi-kisa.west);
\draw[link] (illumi-kisa.east) to (babykiss-kisa.west);
\draw[link] (babykiss-kisa.east) to (readykiss-kisa.west);
\draw[link] (readykiss-kisa.east) to (kby-kisaragi.west);
\draw[link] (hime-mana.east) to (kby-mana.west);
\draw[link] (harajuku-shiro.east) to (alice-shiro.west);
\draw[link] (alice-shiro.east) to (kby-nishiguchi.west);
\draw[link] (nice-yokoo.east) to (yoyogi-yokoo.west);
\draw[link] (yoyogi-yokoo.east) to (kby-yokoo.west);
\draw[link] (tenshi-osaka.east) to (kby-osaka.west);
\draw[link] (snow-imaoka.east) to (kby-imaoka.west);

\draw[link] (kby-fujii.east) to (kissbee-fujii.west);
\draw[link] (kby-kukisawa.east) to (faust-tachibana.west);
\draw[link] (kby-bando.east) to (harp-bando.west);
\draw[link] (kby-uehara.east) to (ponkotsu-arika.west);
\draw[uplink] (kby-sekiguchi.east) to (lovemarine-sekiguchi.south);
\draw[link] (kby-harada.east) to (shinto-mayuri.west);
\draw[link] (kby-shinohara.east) to (kissbee-shinohara.west);
\draw[link] (kby-koizumi.east) to (kbnext-koizumi.west);
\draw[uplink] (kby-matsumotos.east) to (kissbee-matsumoto.south);
\draw[link] (kby-kisaragi.east) to (loveken-kisa.west);
\draw[link] (kby-nishiguchi.east) to (malcolm-takada.west);
\draw[link] (kby-nanase.east) to (loveres-nanase.west);
\draw[link] (kby-nozaki.east) to (pilon-mai.west);
\draw[link] (kby-sato.east) to (pilon-akari.west);
\draw[link] (kby-makino.east) to (pilon-aya.west);
\draw[link] (kby-yajima.east) to (kamu-yajima.west);
\draw[link] (kby-takebe.east) to (miao-shirasu.west);
\draw[link] (kby-yamazaki.east) to (kissbee-yamazaki.west);
\draw[link] (kby-honda.east) to (eightflag-sonoka.west);
\draw[link] (kby-matsumotom.east) to (fouru-matsumoto.west);
\draw[link] (kby-arai.east) to (en-arai.west);
\draw[link] (kby-shijima.east) to (once-kaho.west);
\draw[link] (kby-toyama.east) to (once-sarina.west);
\draw[link] (kby-uchino.east) to (kamu-uchino.west);
\draw[link] (kby-mineshima.east) to (kamu-mineshima.west);
\draw[link] (kby-kondo.east) to (uproach-kondo.west);
\draw[link] (kby-noda.east) to (wonderbreed-erena.west);
\draw[link] (kby-yokoo.east) to (kamu-yokoo.west);
\draw[link] (kby-kaneda.east) to (kamu-kaneda.west);
\draw[link] (kby-sugita.east) to (kamu-sugita.west);
\draw[link] (kby-masuda.east) to (kamu-masuda.west);
\draw[link] (kby-ito.east) to (flore-hamura.west);
\draw[link] (kby-hasegawa.east) to (kamu-hasegawa.west);
\draw[link] (kby-gogan.east) to (kamu-gogan.west);
\draw[link] (kby-osaka.east) to (unbs-osaka.west);
\draw[downlink] (kby-ishizuka.south) to (feru-nekomiya.west);

\draw[link] (faust-tachibana.east) to (ritosuta-izumi.west);
\draw[link] (ritosuta-izumi.east) to (falench-izumi.west);
\draw[link] (harp-bando.east) to (wonderweed-kamisaka.west);
\draw[link] (ponkotsu-arika.east) to (bugsmart-arika.west);
\draw[link] (shinto-mayuri.east) to (prsmin-mayuri.west);
\draw[link] (kissbee-shinohara.east) to (yuinono-shinohara.west);
\draw[link] (kissbee-fujii.east) to (yuinono-fujii.west);
\draw[link] (loveres-nanase.east) to (bugsmart-nanase.west);
\draw[link] (bugsmart-nanase.east) to (japanarizm-nanase.west);
\draw[link] (bugsmart-arika.east) to (chuya-arika.west);
\draw[link] (loveken-kisa.east) to (aiotome-kisa.west);
\draw[link] (malcolm-takada.east) to (comrized-yumeka.west);
\draw[link] (miao-shirasu.east) to (melty-shirasu.west);
\draw[link] (fouru-matsumoto.east) to (ideal-matsumoto.west);
\draw[link] (kamu-sugita.east) to (puzzle-kashii.west);
\draw[link] (puzzle-kashii.east) to (japanarizm-kashii.west);
\draw[link] (japanarizm-kashii.east) to (blackp-kashii.west);
\draw[link] (kamu-yokoo.east) to (affi-yokoo.west);
\draw[link] (affi-yokoo.east) to (loulou-yokoo.west);
\draw[link] (loulou-yokoo.east) to (blackp-yokoo.west);
\draw[link] (once-sarina.east) to (affi-sarina.west);
\draw[link] (affi-sarina.east) to (nise-meisa.west);
\draw[link] (nise-meisa.east) to (jugs-meisa.west);
\draw[link] (jugs-meisa.east) to (spica-meisa.west);
\draw[link] (kamu-mineshima.east) to (hitotsu-mineshima.west);
\draw[link] (kamu-yajima.east) to (zero-yajima.west);
\draw[link] (zero-yajima.east) to (heroine-mai.west);
\draw[link] (heroine-mai.east) to (fr2pon-maimai.west);
\draw[link] (kamu-hasegawa.east) to (asobi-saki.west);
\draw[link] (asobi-saki.east) to (seren-saki.west);
\draw[link] (seren-saki.east) to (anthu-saki.west);
\draw[link] (kamu-kaneda.east) to (kabuki-kurumi.west);
\draw[link] (kabuki-kurumi.east) to (gangdemic-kurumi.west);
\draw[link] (uproach-kondo.east) to (maintitle-asa.west);
\draw[link] (maintitle-asa.east) to (bungee-asa.west);
\draw[link] (wonderbreed-erena.east) to (milky-rena.west);
\draw[link] (milky-rena.east) to (millifair-rena.west);
\draw[link] (feru-nekomiya.east) to (white-nekomiya.west);
\end{tikzpicture}
\end{document}
